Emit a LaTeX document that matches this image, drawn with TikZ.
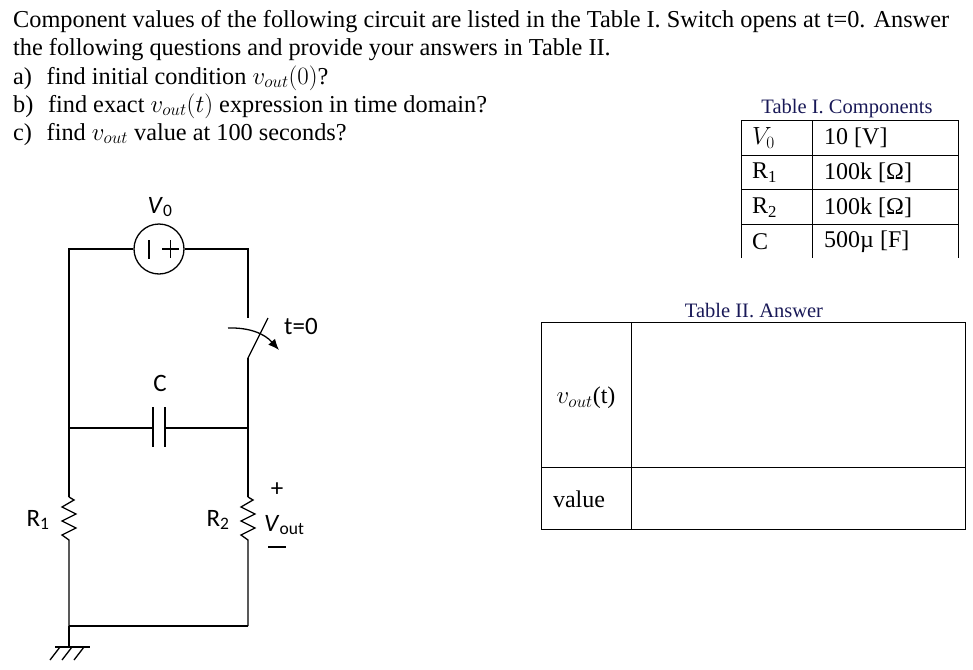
\documentclass[tikz,border=0pt]{standalone}
\usepackage{fontspec}
\setmainfont{Liberation Serif}
\newfontfamily\calfont{Carlito}
\usetikzlibrary{arrows.meta}
\begin{document}
\begin{tikzpicture}[x=1pt,y=-1pt,
  wire/.style={line width=1.3pt},
  txt/.style={anchor=base west,inner sep=0pt,font=\fontsize{24.3}{28}\selectfont},
  ttl/.style={inner sep=0pt,text=black!70!blue!80!gray,font=\fontsize{20.5}{24}\selectfont},
  cell/.style={inner sep=0pt,font=\fontsize{24}{28}\selectfont},
  lab/.style={inner sep=0pt,font=\calfont\fontsize{25}{30}\selectfont}]
\useasboundingbox (0,0) rectangle (973,669);
% text
\node[txt] (l1) at (13,28) {Component values of the following circuit are listed in the Table I. Switch opens at t=0. Answer};
\node[txt] (l2) at (13,56) {the following questions and provide your answers in Table II.};
\node[txt] (la) at (13,84) {a)\hspace{0.6em}find initial condition $v_{out}(0)$?};
\node[txt] (lb) at (13,112) {b)\hspace{0.6em}find exact $v_{out}(t)$ expression in time domain?};
\node[txt] (lc) at (13,140) {c)\hspace{0.6em}find $v_{out}$ value at 100 seconds?};
% Table I
\node[ttl] (t1) at (847,109) {Table I. Components};
\draw[line width=1pt] (741,258)--(741,120)--(958,120)--(958,258);
\draw[line width=1pt] (812,120)--(812,258);
\foreach \y in {155,189,224} \draw[line width=1pt] (741,\y)--(958,\y);
\node[cell,anchor=west] (v0) at (752,138) {$V_0$};
\node[cell,anchor=west] (r1) at (752,173) {R\textsubscript{1}};
\node[cell,anchor=west] (r2) at (752,208) {R\textsubscript{2}};
\node[cell,anchor=west] (cc) at (752,242) {C};
\node[cell,anchor=west] (v0v) at (824,138) {10 [V]};
\node[cell,anchor=west] (r1v) at (824,173) {100k [Ω]};
\node[cell,anchor=west] (r2v) at (824,208) {100k [Ω]};
\node[cell,anchor=west] (ccv) at (824,242) {500µ [F]};
% Table II
\node[ttl] (t2) at (754,311) {Table II. Answer};
\draw[line width=1pt] (541,322) rectangle (965,529);
\draw[line width=1pt] (631,322)--(631,529) (541,467)--(965,467);
\node[cell] (vo) at (586,398) {$v_{out}$(t)};
\node[cell] (val) at (579,499) {value};
% circuit
\coordinate (tl) at (69,249); \coordinate (tr) at (248,249);
\coordinate (bl) at (69,626); \coordinate (br) at (248,626);
\node[draw,circle,line width=1.3pt,minimum size=50pt,inner sep=0pt] (src) at (159,249) {};
\draw[wire] (149,240)--(149,259) (162,249)--(179,249) (170.5,240)--(170.5,258);
\node[lab] (v0l) at (160,207) {\textit{V}\textsubscript{0}};
\draw[wire] (src.west)--(tl)--(69,497) (src.east)--(tr)--(248,318);
\draw[wire] (248,358)--(268,318);
\draw[wire,-{Latex[length=11pt,width=9pt]}] (228,328) to[bend left=25] (279,350);
\node[lab,anchor=west] (t0) at (284,326) {t=0};
\draw[wire] (248,358)--(248,497);
% capacitor
\draw[wire] (69,428)--(153,428) (165,428)--(248,428);
\draw[wire] (153,407)--(153,447) (165,407)--(165,447);
\node[lab] (cl) at (160,383) {C};
% resistors
\foreach \x in {69,248}{
\draw[wire] (\x,497)--(\x+5,500)--(\x-7,507)--(\x+7,514)--(\x-7,521)--(\x+7,528)--(\x-7,535)--(\x,540)--(\x,626);
}
\draw[wire] (bl)--(br);
\node[lab] (r1l) at (38,520) {R\textsubscript{1}};
\node[lab] (r2l) at (218,520) {R\textsubscript{2}};
\node[lab] (pl) at (277,490) {+};
\node[lab,anchor=west] (vout) at (264,525) {\textit{V}\textsubscript{out}};
\draw[wire] (268,547)--(286,547);
% ground
\draw[wire] (bl)--(69,647) (55,647)--(90,647);
\foreach \x in {60,72,84} \draw[wire] (\x,647)--(\x-10,660);
\end{tikzpicture}
\end{document}
